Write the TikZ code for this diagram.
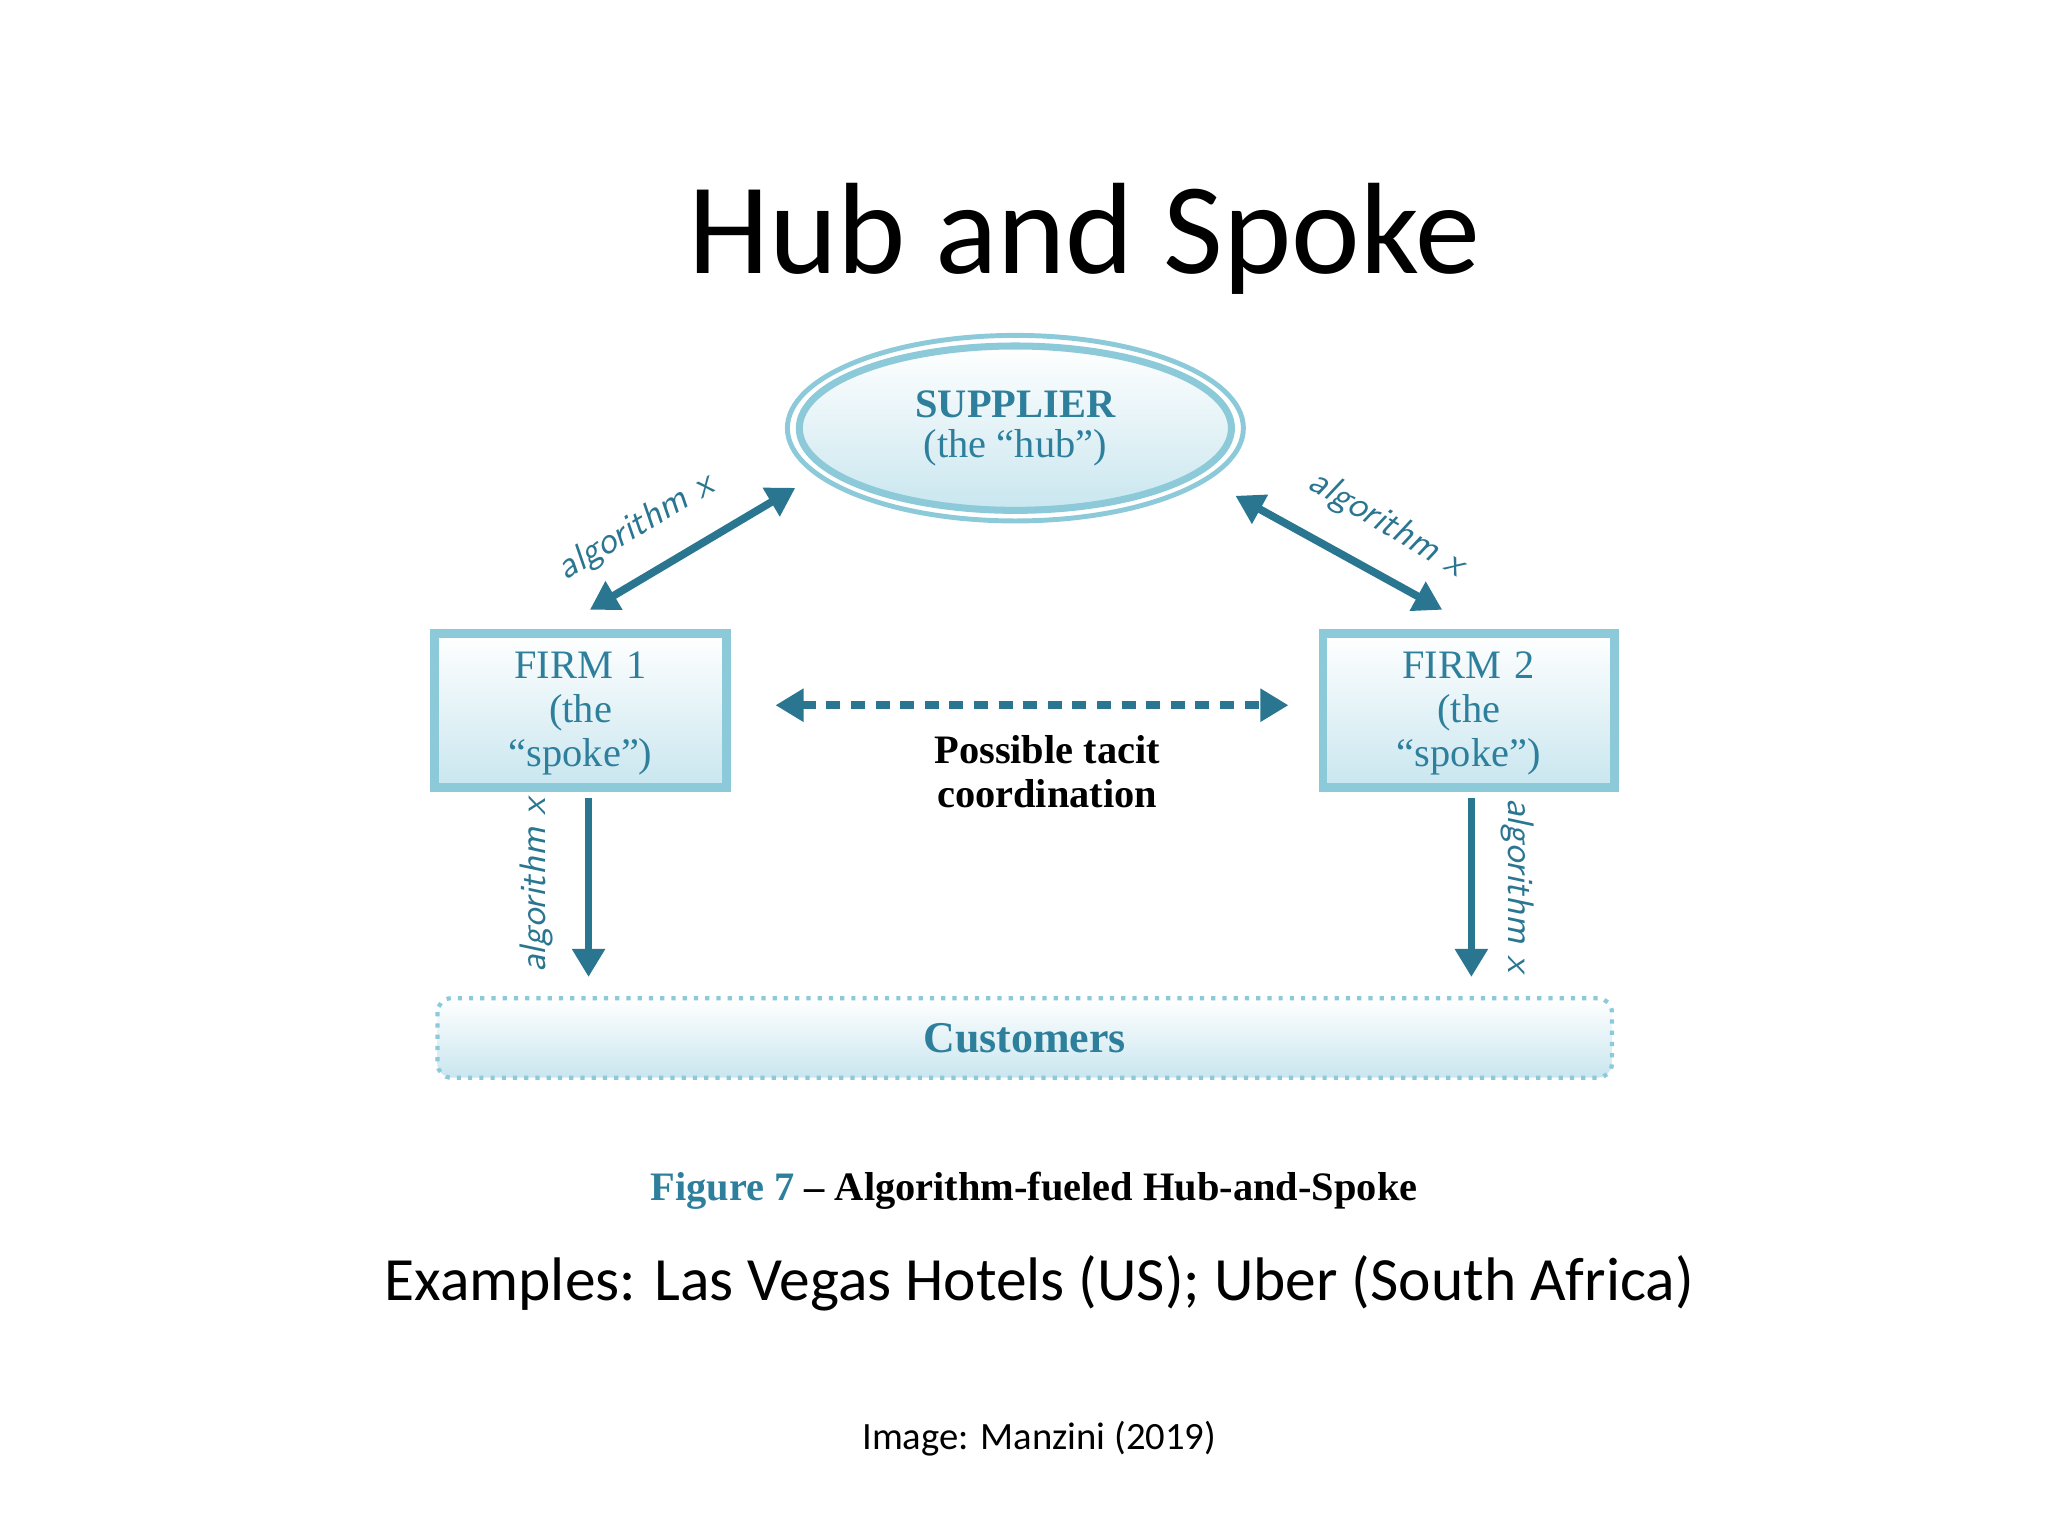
\documentclass[tikz,border=0pt]{standalone}
\usepackage{fontspec}
\setmainfont{Liberation Serif}
\newfontfamily\calfont{Carlito}
\usetikzlibrary{shapes.geometric,arrows.meta}
\definecolor{teal1}{HTML}{2E7F9C}
\definecolor{arr}{HTML}{2A7690}
\definecolor{bord}{HTML}{8CCAD9}
\definecolor{fillb}{HTML}{C9E6EF}
\begin{document}
\begin{tikzpicture}[x=0.013256cm,y=-0.013256cm,
  lbl/.style={font=\itshape\fontsize{10.5}{12}\selectfont\sffamily, text=arr},
  dtext/.style={text=teal1,font=\fontsize{11.5}{12.5}\selectfont,align=center},
  dbl/.style={draw=arr,line width=2.2pt,{Triangle[length=8pt,width=9pt]}-{Triangle[length=8pt,width=9pt]}},
  down/.style={draw=arr,line width=2.2pt,-{Triangle[length=8pt,width=9pt]}}]
\useasboundingbox (0,0) rectangle (1545,1159);
\node[font=\calfont\fontsize{37}{44}\selectfont] (title) at (818,180) {Hub and Spoke};
% hub
\coordinate (hc) at (766,323);
\path[draw=bord,line width=1.4pt] (hc) ellipse [x radius=172, y radius=70];
\path[draw=bord,line width=2pt,top color=white,bottom color=fillb] (hc) ellipse [x radius=163, y radius=62];
\node[dtext,font=\bfseries\fontsize{11.5}{14}\selectfont] (sup) at (766,305) {SUPPLIER};
\node[dtext] (hubt) at (766,338) {(the “hub”)};
% firms
\path[draw=bord,line width=2.5pt,top color=white,bottom color=fillb] (328,478) rectangle (548,594);
\path[draw=bord,line width=2.5pt,top color=white,bottom color=fillb] (998,478) rectangle (1218,594);
\node[dtext,text width=3cm] (f1) at (438,538) {FIRM 1\\(the\\“spoke”)};
\node[dtext,text width=3cm] (f2) at (1108,538) {FIRM 2\\(the\\“spoke”)};
\coordinate (a1) at (445,460); \coordinate (b1) at (600,368);
\coordinate (a2) at (932,374); \coordinate (b2) at (1088,460);
\draw[dbl] (a1) -- (b1);
\draw[dbl] (a2) -- (b2);
\node[lbl,rotate=31] (l1) at (480,398) {algorithm x};
\node[lbl,rotate=-31] (l2) at (1046,396) {algorithm x};
% tacit
\coordinate (t1) at (585,532); \coordinate (t2) at (972,532);
\draw[draw=arr,line width=2.2pt,dash pattern=on 4pt off 3pt,{Triangle[length=8pt,width=9pt]}-{Triangle[length=8pt,width=9pt]}] (t1) -- (t2);
\node[font=\bfseries\fontsize{11.5}{12.5}\selectfont,align=center] (tac) at (790,582) {Possible tacit\\coordination};
% down
\coordinate (d1) at (444,602); \coordinate (e1) at (444,737);
\coordinate (d2) at (1110,602); \coordinate (e2) at (1110,737);
\draw[down] (d1) -- (e1);
\draw[down] (d2) -- (e2);
\node[lbl,rotate=90] (l3) at (405,668) {algorithm x};
\node[lbl,rotate=-90] (l4) at (1145,668) {algorithm x};
% customers
\path[draw=bord,line width=1.2pt,dotted,rounded corners=4pt,top color=white,bottom color=fillb] (330,753) rectangle (1216,813);
\node[dtext,font=\bfseries\fontsize{12.5}{15}\selectfont] (cust) at (773,783) {Customers};
% captions
\node[font=\bfseries\fontsize{11.5}{14}\selectfont] (fig) at (780,898) {\textcolor{teal1}{Figure 7} – Algorithm-fueled Hub-and-Spoke};
\node[font=\calfont\fontsize{17.5}{22}\selectfont] (ex) at (784,968) {Examples: Las Vegas Hotels (US); Uber (South Africa)};
\node[font=\calfont\fontsize{11}{14}\selectfont] (img) at (784,1085) {Image: Manzini (2019)};
\end{tikzpicture}
\end{document}
